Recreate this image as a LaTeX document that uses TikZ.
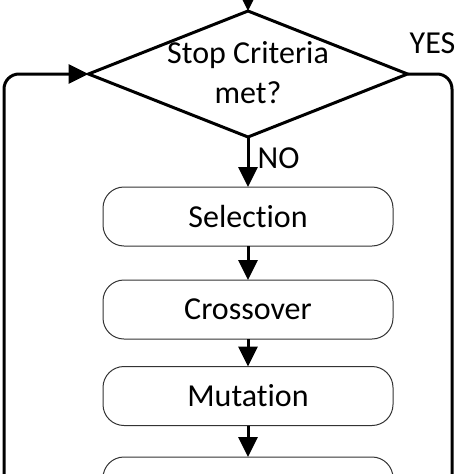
\documentclass[tikz,border=0pt]{standalone}
\usepackage{fontspec}
\setmainfont{Carlito}[Ligatures=NoCommon]
\usetikzlibrary{arrows.meta,shapes.geometric}
\begin{document}
\begin{tikzpicture}[x=1pt,y=-1pt,
  lbl/.style={font=\fontsize{32}{40}\selectfont, inner sep=0pt},
  stepbox/.style={draw=black!80, line width=1pt, rounded corners=21pt,
    minimum width=290pt, minimum height=59pt, inner sep=0pt, outer sep=0pt,
    font=\fontsize{32}{40}\selectfont},
  arr/.style={line width=3pt, -{Triangle[width=19pt,length=20pt]}},
  loop/.style={line width=3pt, rounded corners=15pt}]
\useasboundingbox (0,0) rectangle (474,474);
\clip (0,0) rectangle (474,474);
\node[diamond, draw, line width=3pt, line join=miter, minimum width=319pt, minimum height=126pt,
  inner sep=0pt, outer sep=0pt] (d) at (248,74) {};
\node[lbl, align=center] (dtxt) at (248,73) {Stop Criteria\\met?};
\node[stepbox] (sel) at (248,216.5) {Selection};
\node[stepbox] (cro) at (248,309.5) {Crossover};
\node[stepbox] (mut) at (248,396) {Mutation};
\node[stepbox] (nxt) at (248,486.5) {};
\coordinate (topin) at (248,-30);
\coordinate (loopbot) at (4,500);
\coordinate (yesbot) at (452,500);
\draw[arr] (topin) -- (d.north);
\draw[arr] (d.south) -- (sel.north);
\draw[arr] (sel.south) -- (cro.north);
\draw[arr] (cro.south) -- (mut.north);
\draw[arr] (mut.south) -- (nxt.north);
\draw[loop, arr] (loopbot) |- (d.west);
\draw[loop] (d.east) -| (yesbot);
\node[lbl] (yes) at (432.5,43) {YES};
\node[lbl] (no) at (278.5,158) {NO};
\end{tikzpicture}
\end{document}
